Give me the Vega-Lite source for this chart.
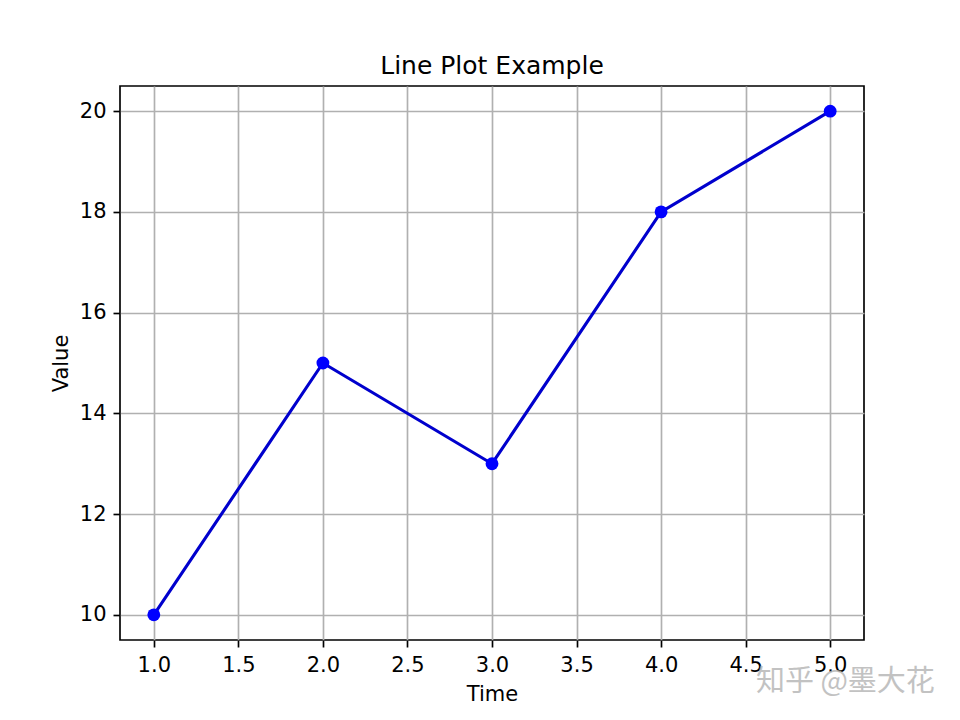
{
  "$schema": "https://vega.github.io/schema/vega-lite/v6.json",
  "autosize": "none",
  "width": 744,
  "height": 554,
  "padding": {"left": 120, "top": 86, "right": 96, "bottom": 80},
  "background": "white",
  "config": {
    "font": "DejaVu Sans",
    "view": {"stroke": "black", "strokeWidth": 1.67},
    "axis": {
      "grid": true,
      "gridColor": "#b0b0b0",
      "gridWidth": 1.67,
      "domain": false,
      "tickColor": "black",
      "tickSize": 7,
      "tickWidth": 1.67,
      "labelPadding": 7,
      "labelFont": "DejaVu Sans",
      "labelFontSize": 21,
      "labelColor": "black",
      "titleFont": "DejaVu Sans",
      "titleFontSize": 21,
      "titleFontWeight": "normal",
      "titleColor": "black",
      "titlePadding": 8
    },
    "title": {"font": "DejaVu Sans", "fontSize": 25, "fontWeight": "normal", "color": "black", "offset": 7}
  },
  "title": {"text": "Line Plot Example"},
  "layer": [
    {
      "data": {"values": [
        {"Time": 1, "Value": 10},
        {"Time": 2, "Value": 15},
        {"Time": 3, "Value": 13},
        {"Time": 4, "Value": 18},
        {"Time": 5, "Value": 20}
      ]},
      "layer": [
        {
          "mark": {"type": "line", "color": "#0000CD", "strokeWidth": 3.1},
          "encoding": {
            "x": {"field": "Time", "type": "quantitative", "scale": {"domain": [0.8, 5.2], "nice": false, "zero": false},
                  "axis": {"values": [1, 1.5, 2, 2.5, 3, 3.5, 4, 4.5, 5], "format": ".1f", "title": "Time"}},
            "y": {"field": "Value", "type": "quantitative", "scale": {"domain": [9.5, 20.5], "nice": false, "zero": false},
                  "axis": {"values": [10, 12, 14, 16, 18, 20], "format": "d", "title": "Value"}}
          }
        },
        {
          "mark": {"type": "point", "filled": true, "shape": "circle", "color": "#0000FF", "opacity": 1, "size": 165},
          "encoding": {
            "x": {"field": "Time", "type": "quantitative"},
            "y": {"field": "Value", "type": "quantitative"}
          }
        }
      ]
    },
    {
      "data": {"values": [{"Time": 5.09, "Value": 8.66, "label": "知乎 @墨大花"}]},
      "mark": {"type": "text", "font": "Noto Sans CJK SC", "fontSize": 29, "color": "#b8b8b8", "opacity": 0.85, "clip": false},
      "encoding": {
        "x": {"field": "Time", "type": "quantitative"},
        "y": {"field": "Value", "type": "quantitative"},
        "text": {"field": "label"}
      }
    }
  ]
}
